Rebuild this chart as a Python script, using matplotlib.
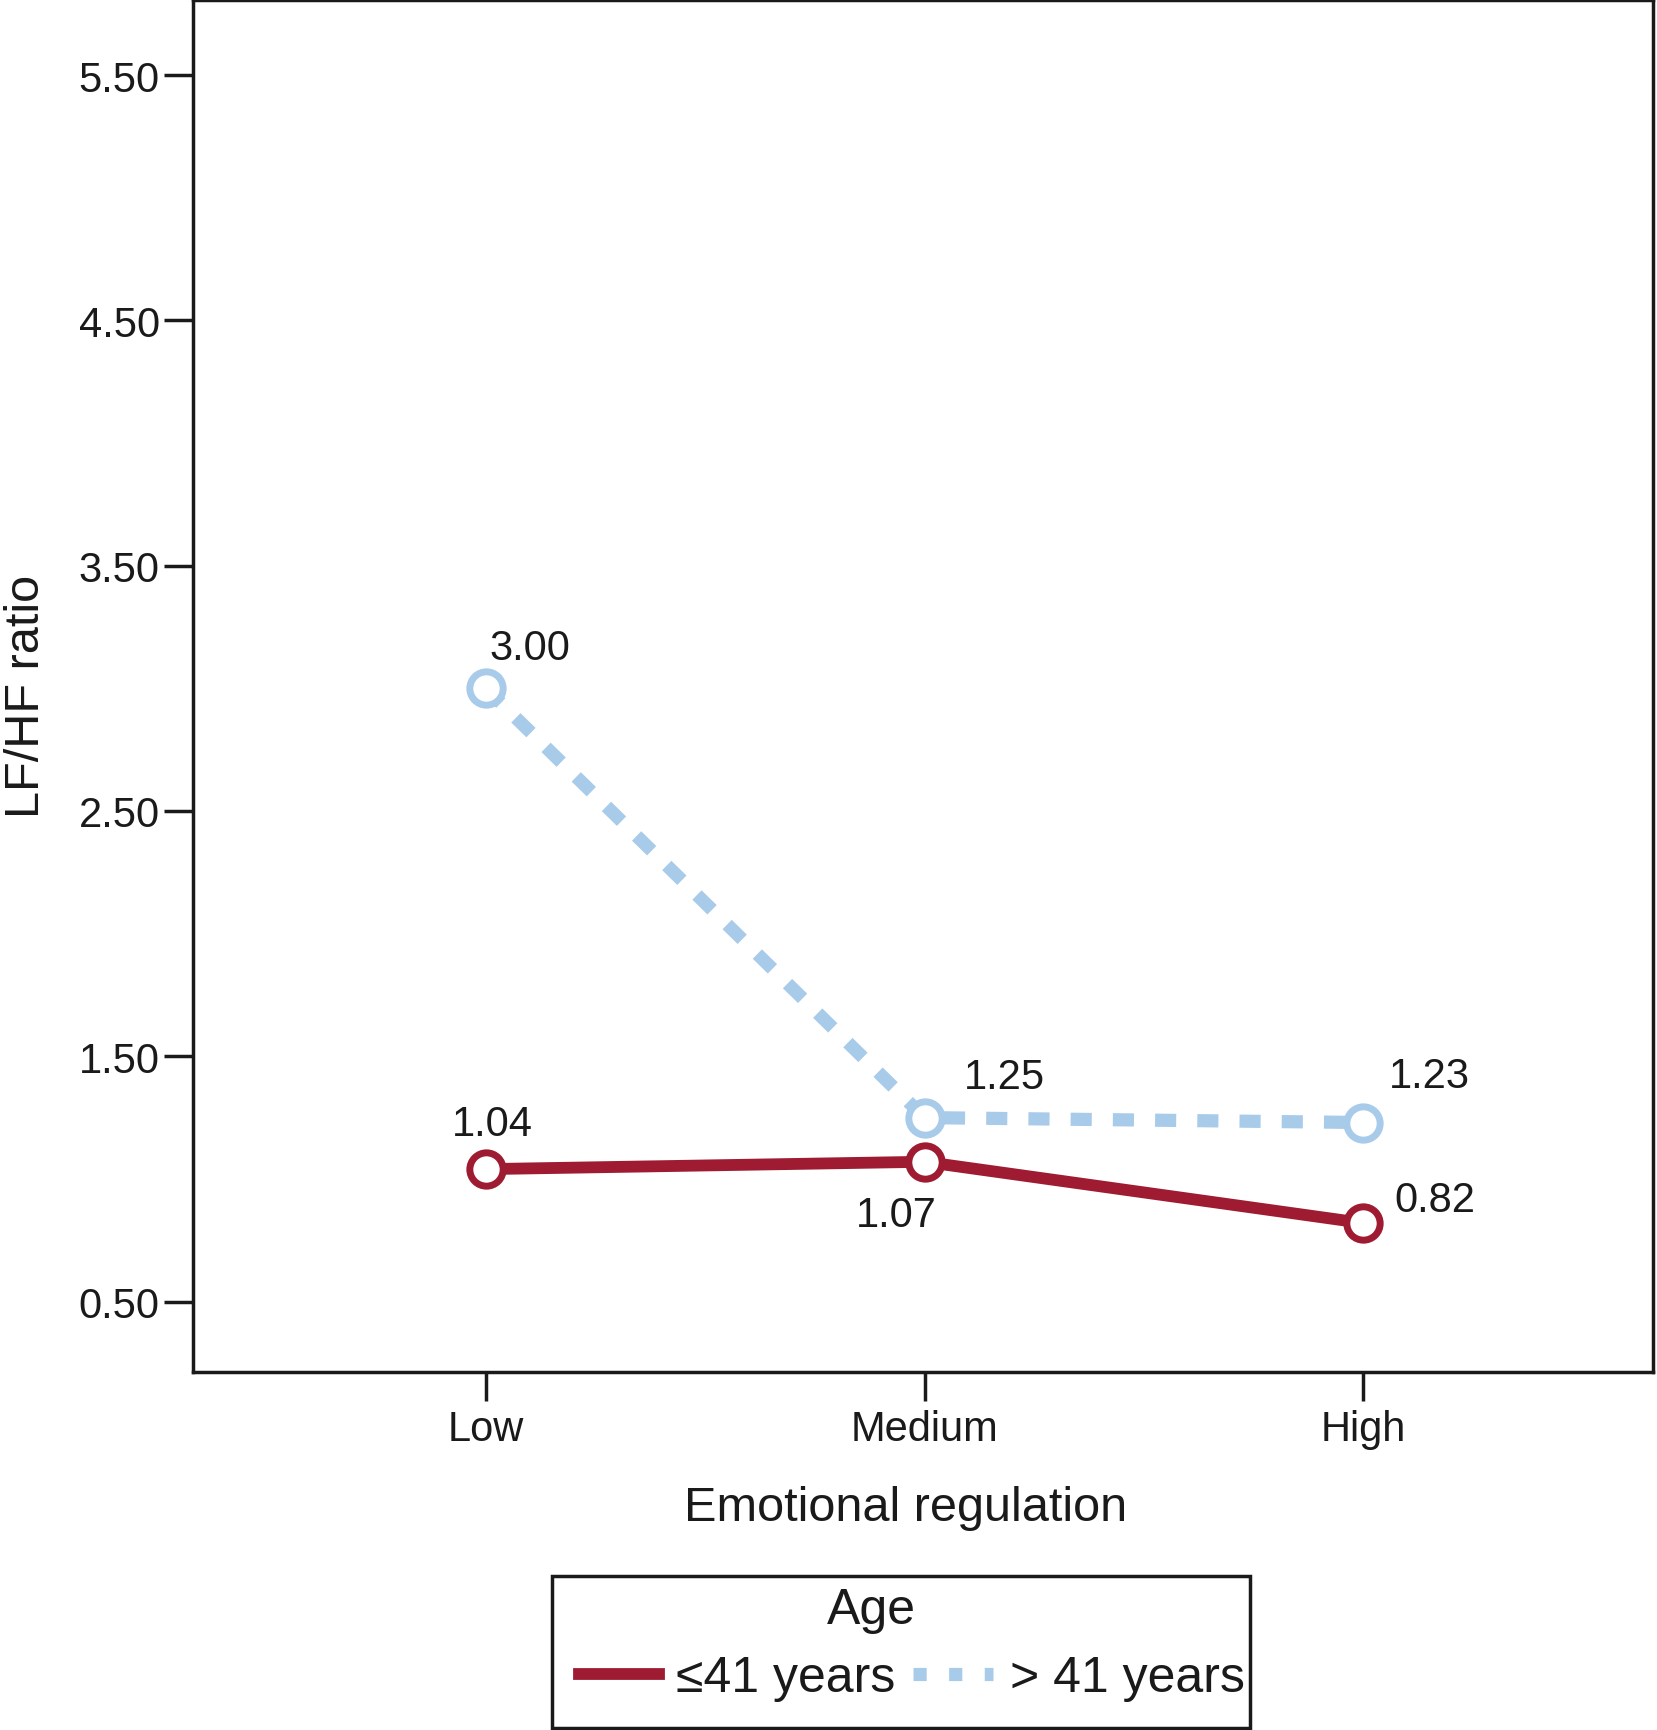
import matplotlib
matplotlib.use("Agg")
import matplotlib.pyplot as plt
from matplotlib.patches import Rectangle

plt.rcParams['font.family'] = ['Liberation Sans', 'DejaVu Sans']

categories = ["Low", "Medium", "High"]
young = [1.04, 1.07, 0.82]
old = [3.00, 1.25, 1.23]
yticks = [0.50, 1.50, 2.50, 3.50, 4.50, 5.50]

RED = "#9E1B32"
BLUE = "#A8CBEA"
INK = "#1a1a1a"

W, H = 1657, 1731
fig = plt.figure(figsize=(W / 100, H / 100), dpi=100)
ax = fig.add_axes([193 / W, 1 - 1373 / H, (1653 - 193) / W, (1373 - 1) / H])

x = list(range(len(categories)))
ax.plot(x, young, color=RED, lw=8.5, marker='o', ms=24, mfc='white', mec=RED, mew=5,
        label="\u226441 years", zorder=3)
ax.plot(x, old, color=BLUE, lw=9.5, ls=(0, (1.6, 1.6)), marker='o', ms=24, mfc='white', mec=BLUE,
        mew=5, label="> 41 years", zorder=2, dash_capstyle='butt')

offs_young = [(7, 45), (-28, -53), (72, 23)]
offs_old = [(44, 40), (80, 41), (66, 47)]
for xi, v, o in zip(x, young, offs_young):
    ax.annotate(f"{v:.2f}", (xi, v), xytext=o, textcoords='offset pixels',
                ha='center', va='center', fontsize=30, color=INK)
for xi, v, o in zip(x, old, offs_old):
    ax.annotate(f"{v:.2f}", (xi, v), xytext=o, textcoords='offset pixels',
                ha='center', va='center', fontsize=30, color=INK)

ax.set_xlim(-0.667, 2.66)
ax.set_ylim(0.213, 5.806)
ax.set_xticks(x)
ax.set_xticklabels(categories)
ax.set_yticks(yticks)
ax.set_yticklabels([f"{t:.2f}" for t in yticks])
ax.tick_params(axis='both', direction='out', length=21, width=2.5, labelsize=30,
               colors=INK, pad=3)
ax.tick_params(axis='x', pad=6)
for s in ax.spines.values():
    s.set_linewidth(2.5)
    s.set_color(INK)

ax.set_xlabel("Emotional regulation", fontsize=35, color=INK)
ax.xaxis.label.set_va('center')
ax.xaxis.set_label_coords(0.488, -0.099)
ax.set_ylabel("LF/HF ratio", fontsize=35, color=INK)
ax.yaxis.label.set_va('center')
ax.yaxis.set_label_coords(-0.114, 0.493)

# legend box, title and entries
fig.patches.append(Rectangle((552 / W, 1 - 1729 / H), (1250 - 552) / W, (1729 - 1577) / H,
                             transform=fig.transFigure, fill=False, edgecolor=INK,
                             linewidth=2.5))
fig.text(871 / W, 1 - 1611 / H, "Age", ha='center', va='center', fontsize=36, color=INK)
leg = fig.legend(loc='center', bbox_to_anchor=(912 / W, 1 - 1679 / H),
                 ncol=2, fontsize=36, frameon=False, handlelength=1.6, columnspacing=0.35,
                 handletextpad=0.35, borderpad=0, borderaxespad=0)
for t in leg.get_texts():
    t.set_color(INK)
lines = leg.get_lines()
for line in lines:
    line.set_marker('')
lines[1].set_linestyle((0, (1.0, 1.7)))

fig.savefig("out.png", dpi=100, facecolor='white')
